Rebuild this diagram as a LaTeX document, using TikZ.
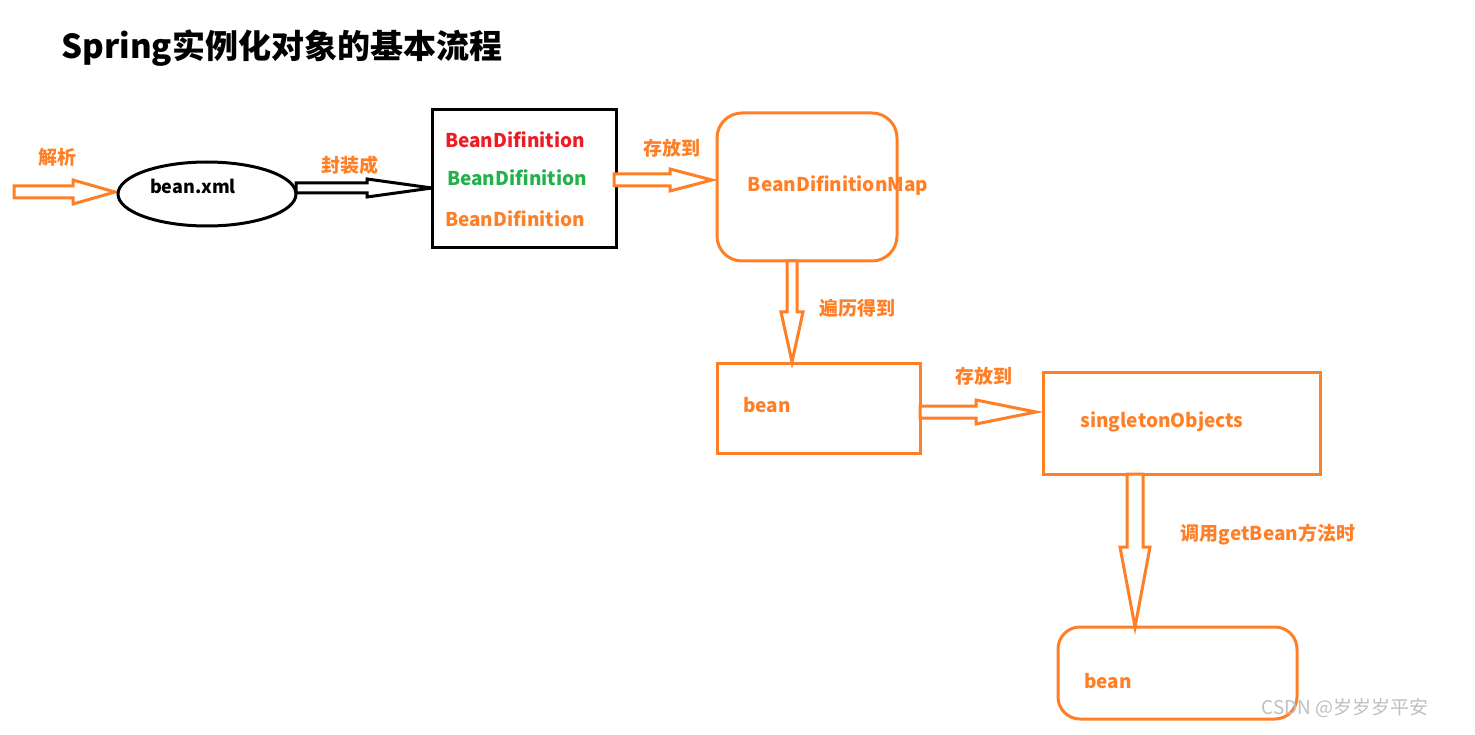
\documentclass[tikz,border=0pt]{standalone}
\usepackage{fontspec}
\setmainfont{Noto Sans CJK SC}
\definecolor{org}{HTML}{FF7F27}
\definecolor{red1}{HTML}{ED1C24}
\definecolor{grn}{HTML}{22B14C}
\tikzset{
 lbl/.style={font=\fontsize{19}{22}\selectfont\bfseries, text=org},
 boxo/.style={draw=org, line width=3pt},
 harr/.style={draw=#1, line width=3pt, fill=white, line join=miter},
}
% horizontal hollow arrow: x1,x2,y,shaft half,head half,head length,color
\newcommand\myharrow[7]{\draw[harr=#7] (#1,#3-#4) -- (#2-#6,#3-#4) -- (#2-#6,#3-#5) -- (#2,#3) -- (#2-#6,#3+#5) -- (#2-#6,#3+#4) -- (#1,#3+#4) -- cycle;}
\newcommand\myvarrow[7]{\draw[harr=#7] (#3-#4,#1) -- (#3-#4,#2-#6) -- (#3-#5,#2-#6) -- (#3,#2) -- (#3+#5,#2-#6) -- (#3+#4,#2-#6) -- (#3+#4,#1) -- cycle;}
\begin{document}
\begin{tikzpicture}[x=1pt,y=-1pt]
\useasboundingbox (0,0) rectangle (1475,735);
\node[anchor=west, font=\fontsize{33}{38}\selectfont\bfseries] (title) at (58,48) {Spring实例化对象的基本流程};
\node[lbl] (l1) at (57,157) {解析};
\myharrow{14}{115}{192}{6}{12}{42}{org}
\draw[line width=3pt] (207,194) ellipse [x radius=89, y radius=32];
\node[font=\fontsize{18}{22}\selectfont\bfseries] (xml) at (193,186) {bean.xml};
\node[lbl] (l2) at (350,165) {封装成};
\myharrow{296}{432}{188}{5}{9}{65}{black}
\draw[line width=3pt, fill=white] (432,110) rectangle (616,248);
\node[lbl, text=red1] (d1) at (515,140) {BeanDifinition};
\node[lbl, text=grn] (d2) at (517,178) {BeanDifinition};
\node[lbl] (d3) at (515,219) {BeanDifinition};
\node[lbl] (l3) at (672,148) {存放到};
\myharrow{614}{712}{180}{6}{11}{42}{org}
\draw[boxo, rounded corners=25pt] (717,113) rectangle (897,261);
\node[lbl] (map) at (838,186) {BeanDifinitionMap};
\myvarrow{261}{362}{792}{5}{11}{50}{org}
\node[lbl] (l4) at (857,308) {遍历得到};
\draw[boxo] (717,363) rectangle (920,453);
\node[lbl] (b1) at (767,405) {bean};
\node[lbl] (l5) at (984,376) {存放到};
\myharrow{920}{1036}{412}{6}{12}{60}{org}
\draw[boxo] (1043,372) rectangle (1320,474);
\node[lbl] (so) at (1162,422) {singletonObjects};
\myvarrow{474}{627}{1135}{8}{15}{80}{org}
\node[lbl] (l6) at (1268,534) {调用getBean方法时};
\draw[boxo, rounded corners=22pt] (1058,627) rectangle (1297,719);
\node[lbl] (b2) at (1108,681) {bean};
\node[font=\fontsize{19}{22}\selectfont, text=black!25] (wm) at (1345,708) {CSDN @岁岁岁平安};
\end{tikzpicture}
\end{document}
